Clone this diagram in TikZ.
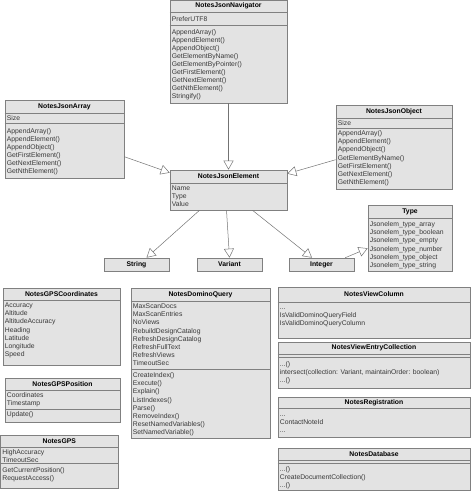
\documentclass[tikz,border=0pt]{standalone}
\usepackage{fontspec}
\setmainfont{Liberation Sans}
\usetikzlibrary{calc}
\usetikzlibrary{fit}
\usetikzlibrary{arrows.meta}
\colorlet{boxfill}{black!11}
\colorlet{boxdraw}{black!50}
\colorlet{rowtext}{black!78}
\tikzset{classbox/.style = {draw=boxdraw, fill=boxfill, inner sep=0pt, line width=0.6pt}}
\tikzset{classtitle/.style = {font=\fontsize{6.8}{8.1}\selectfont\bfseries, inner sep=0pt}}
\tikzset{classrows/.style = {font=\fontsize{6.8}{8.1}\selectfont, text=rowtext, align=left, inner sep=0pt, anchor=north west}}
\tikzset{classline/.style = {draw=boxdraw, line width=0.6pt}}
\tikzset{inherit/.style = {draw=black!55, line width=0.5pt, -{Triangle[open, length=9pt, width=10pt]}}}
\newcommand{\umlclass}[7]{%
  \node[classbox, fit={(#2,#3) (#4,#5)}] (#1) {};
  \node[classtitle] (#1-title) at ($(#2,#3)!0.5!(#4,#6)$) {#7};
  \draw[classline] (#1.west |- 0,#6) -- (#1.east |- 0,#6);
}
\newcommand{\umlrows}[3]{\node[classrows, xshift=2pt, yshift=5.67pt] at (#1.west |- 0,#2) {\strut #3};}
\newcommand{\umldivider}[2]{\draw[classline] (#1.west |- 0,#2) -- (#1.east |- 0,#2);}

\begin{document}
\begin{tikzpicture}[x=1pt, y=-1pt]
\useasboundingbox (0,0) rectangle (474,495);

\umlclass{nav}{170}{0}{287}{103}{12}{NotesJsonNavigator}
\umlrows{nav}{21.5}{PreferUTF8}
\umldivider{nav}{25}
\umlrows{nav}{34}{AppendArray()\\AppendElement()\\AppendObject()\\GetElementByName()\\GetElementByPointer()\\GetFirstElement()\\GetNextElement()\\GetNthElement()\\Stringify()}

\umlclass{arr}{5}{100}{124}{178}{113}{NotesJsonArray}
\umlrows{arr}{120.5}{Size}
\umldivider{arr}{123.5}
\umlrows{arr}{133}{AppendArray()\\AppendElement()\\AppendObject()\\GetFirstElement()\\GetNextElement()\\GetNthElement()}

\umlclass{obj}{336}{105}{452}{189}{118}{NotesJsonObject}
\umlrows{obj}{125.5}{Size}
\umldivider{obj}{128}
\umlrows{obj}{135.5}{AppendArray()\\AppendElement()\\AppendObject()\\GetElementByName()\\GetFirstElement()\\GetNextElement()\\GetNthElement()}

\umlclass{elem}{170}{170}{287}{210}{183}{NotesJsonElement}
\umlrows{elem}{190.5}{Name\\Type\\Value}

\node[classbox, classtitle, minimum width=65pt, minimum height=13pt] (str) at (136.5,264.5) {String};
\node[classbox, classtitle, minimum width=65pt, minimum height=13pt] (var) at (229.5,264.5) {Variant};
\node[classbox, classtitle, minimum width=65pt, minimum height=13pt] (int) at (321.5,264.5) {Integer};

\umlclass{type}{368}{205}{452}{271}{218}{Type}
\umlrows{type}{226.5}{Jsonelem\_type\_array\\Jsonelem\_type\_boolean\\Jsonelem\_type\_empty\\Jsonelem\_type\_number\\Jsonelem\_type\_object\\Jsonelem\_type\_string}

\draw[inherit] (nav) -- (elem);
\draw[inherit] ([yshift=-57pt]arr.north east) -- ([yshift=-3pt]elem.north west);
\draw[inherit] ([yshift=-55pt]obj.north west) -- ([yshift=-4pt]elem.north east);
\draw[inherit] ([xshift=-29pt]elem.south) -- ([xshift=10pt]str.north);
\draw[inherit] ([xshift=-2pt]elem.south) -- (var.north);
\draw[inherit] ([xshift=24pt]elem.south) -- ([xshift=-9.5pt]int.north);
\draw[inherit] ([xshift=-9pt]int.north east) -- ([yshift=23pt]type.south west);

\umlclass{gpsc}{3}{288}{120}{365}{300}{NotesGPSCoordinates}
\umlrows{gpsc}{307.5}{Accuracy\\Altitude\\AltitudeAccuracy\\Heading\\Latitude\\Longitude\\Speed}

\umlclass{gpsp}{5}{378}{120}{422}{390}{NotesGPSPosition}
\umlrows{gpsp}{397.5}{Coordinates\\Timestamp}
\umldivider{gpsp}{409}
\umlrows{gpsp}{416.5}{Update()}

\umlclass{gps}{0.5}{435}{118}{488}{447}{NotesGPS}
\umlrows{gps}{454.5}{HighAccuracy\\TimeoutSec}
\umldivider{gps}{463}
\umlrows{gps}{472.5}{GetCurrentPosition()\\RequestAccess()}

\umlclass{dq}{131}{288}{270}{438}{301}{NotesDominoQuery}
\umlrows{dq}{308.5}{MaxScanDocs\\MaxScanEntries\\NoViews\\RebuildDesignCatalog\\RefreshDesignCatalog\\RefreshFullText\\RefreshViews\\TimeoutSec}
\umldivider{dq}{369}
\umlrows{dq}{377.5}{CreateIndex()\\Execute()\\Explain()\\ListIndexes()\\Parse()\\RemoveIndex()\\ResetNamedVariables()\\SetNamedVariable()}

\umlclass{vcol}{278}{287}{470}{338}{302}{NotesViewColumn}
\umlrows{vcol}{309.5}{...\\IsValidDominoQueryField\\IsValidDominoQueryColumn}

\umlclass{vec}{278}{342}{470}{388}{354}{NotesViewEntryCollection}
\umldivider{vec}{357.5}
\umlrows{vec}{366.5}{...()\\intersect(collection: Variant, maintainOrder: boolean)\\...()}

\umlclass{reg}{278}{397}{470}{437}{408}{NotesRegistration}
\umlrows{reg}{416}{...\\ContactNoteId\\...}

\umlclass{db}{278}{448}{470}{490}{460}{NotesDatabase}
\umldivider{db}{463}
\umlrows{db}{471}{...()\\CreateDocumentCollection()\\...()}
\end{tikzpicture}
\end{document}
